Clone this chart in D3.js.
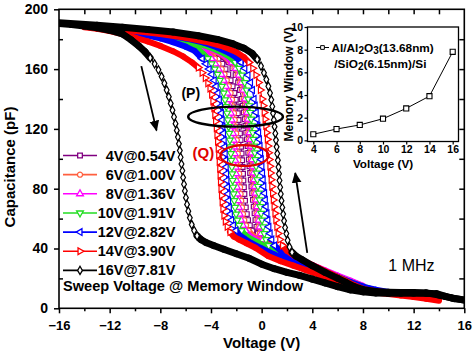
<!DOCTYPE html>
<html><head><meta charset="utf-8">
<script src="https://cdn.jsdelivr.net/npm/d3@7"></script>
<style>
body{margin:0;background:#fff}
svg{display:block}
text{font-family:"Liberation Sans",Arial,sans-serif}
</style>
</head><body>
<svg id="c" width="474" height="353"></svg>
<script>
// ---------------- DATA ----------------
const sweepLabels = ["4V@0.54V","6V@1.00V","8V@1.36V","10V@1.91V","12V@2.82V","14V@3.90V","16V@7.81V"];
const xMajorTicks = [-16,-12,-8,-4,0,4,8,12,16];
const yMajorTicks = [0,40,80,120,160,200];
const insetVoltage = [4,6,8,10,12,14,16];
const insetWindow = [0.54,1.00,1.36,1.91,2.82,3.90,7.81];
const insetXTicks = [4,6,8,10,12,14,16];
const insetYTicks = [0,2,4,6,8,10];

const purpleDown = [[-4,177],[-3.75,170],[-3.4,167],[-3.1,163.5],[-2.85,160],[-2.63,156.5],[-2.45,152.5],[-2.29,148.5],[-2.15,144],[-2.04,139.5],[-1.95,135],[-1.88,130.5],[-1.82,126],[-1.76,121.5],[-1.71,117],[-1.66,112.5],[-1.62,108],[-1.58,103.5],[-1.54,99],[-1.5,94.5],[-1.47,90],[-1.44,85.5],[-1.4,81],[-1.36,76.5],[-1.31,72],[-1.25,67.5],[-1.17,63],[-1.07,59],[-0.93,55.5],[-0.73,52],[-0.45,49],[-0.05,46.5],[0.6,43],[1.4,39],[2.2,35],[3,31],[4,27]];
const purpleUp = [[4,27],[3,32],[2,36.5],[1,40],[0.04,43.5],[-0.18,46],[-0.31,50],[-0.41,54.5],[-0.49,59],[-0.56,63.5],[-0.63,68],[-0.69,72.5],[-0.75,77],[-0.81,81.5],[-0.86,86],[-0.91,90.5],[-0.96,95],[-1.01,99.5],[-1.06,104],[-1.11,108.5],[-1.16,113],[-1.22,117.5],[-1.28,122],[-1.34,126.5],[-1.41,131],[-1.49,135.5],[-1.58,140],[-1.71,146],[-1.86,151],[-2.06,156],[-2.31,160.5],[-2.61,164.5],[-3.01,168],[-3.5,171.5],[-4,175]];

const orangeDown = [[-6,178],[-5,175.5],[-4.5,173.5],[-4.05,170],[-3.7,167],[-3.4,163.5],[-3.15,160],[-2.93,156.5],[-2.75,152.5],[-2.59,148.5],[-2.45,144],[-2.34,139.5],[-2.25,135],[-2.18,130.5],[-2.12,126],[-2.06,121.5],[-2.01,117],[-1.96,112.5],[-1.92,108],[-1.88,103.5],[-1.84,99],[-1.8,94.5],[-1.77,90],[-1.74,85.5],[-1.7,81],[-1.66,76.5],[-1.61,72],[-1.55,67.5],[-1.47,63],[-1.37,59],[-1.23,55.5],[-1.03,52],[-0.75,49],[-0.35,46.5],[0.3,43.5],[1.2,39.5],[2.2,35],[3.2,31],[4.2,27],[5.1,23.5],[6,20]];
const orangeUp = [[6,20],[5,24],[4,28],[3,32],[2,36],[1,39.5],[0.2,42.5],[-0.02,46],[-0.15,50],[-0.25,54.5],[-0.33,59],[-0.4,63.5],[-0.47,68],[-0.53,72.5],[-0.59,77],[-0.65,81.5],[-0.7,86],[-0.75,90.5],[-0.8,95],[-0.85,99.5],[-0.9,104],[-0.95,108.5],[-1,113],[-1.06,117.5],[-1.12,122],[-1.18,126.5],[-1.25,131],[-1.33,135.5],[-1.42,140],[-1.55,146],[-1.7,151],[-1.9,156],[-2.15,160.5],[-2.45,164.5],[-2.85,168],[-3.5,171.5],[-4.4,174.5],[-5.2,176.5],[-6,178]];

const magentaDown = [[-8,182],[-7,180],[-6,177.5],[-5,174.5],[-4.3,170],[-3.95,167],[-3.65,163.5],[-3.4,160],[-3.18,156.5],[-3,152.5],[-2.84,148.5],[-2.7,144],[-2.59,139.5],[-2.5,135],[-2.43,130.5],[-2.37,126],[-2.31,121.5],[-2.26,117],[-2.21,112.5],[-2.17,108],[-2.13,103.5],[-2.09,99],[-2.05,94.5],[-2.02,90],[-1.99,85.5],[-1.95,81],[-1.91,76.5],[-1.86,72],[-1.8,67.5],[-1.72,63],[-1.62,59],[-1.48,55.5],[-1.28,52],[-1,49],[-0.6,46.5],[0,44],[1,40],[2,36],[3,32],[4,28.5],[5,25],[6,21.5],[7,18],[8,15]];
const magentaUp = [[8,15],[7,18.5],[6,22],[5,25.5],[4,29],[3,32.5],[2,36],[1,39.5],[0.31,42.5],[0.09,46],[-0.04,50],[-0.14,54.5],[-0.22,59],[-0.29,63.5],[-0.36,68],[-0.42,72.5],[-0.48,77],[-0.54,81.5],[-0.59,86],[-0.64,90.5],[-0.69,95],[-0.74,99.5],[-0.79,104],[-0.84,108.5],[-0.89,113],[-0.95,117.5],[-1.01,122],[-1.07,126.5],[-1.14,131],[-1.22,135.5],[-1.31,140],[-1.44,146],[-1.59,151],[-1.79,156],[-2.04,160.5],[-2.34,164.5],[-2.74,168],[-3.4,171.5],[-4.3,174.5],[-5.5,177.5],[-6.8,180],[-8,181.8]];

const greenDown = [[-10,185],[-9,183.2],[-8,181.5],[-7,179.2],[-6,176.5],[-5,173.2],[-4.6,170],[-4.25,167],[-3.95,163.5],[-3.7,160],[-3.48,156.5],[-3.3,152.5],[-3.14,148.5],[-3,144],[-2.89,139.5],[-2.8,135],[-2.73,130.5],[-2.67,126],[-2.61,121.5],[-2.56,117],[-2.51,112.5],[-2.47,108],[-2.43,103.5],[-2.39,99],[-2.35,94.5],[-2.32,90],[-2.29,85.5],[-2.25,81],[-2.21,76.5],[-2.16,72],[-2.1,67.5],[-2.02,63],[-1.92,59],[-1.78,55.5],[-1.58,52],[-1.3,49],[-0.9,46.5],[-0.3,44],[0.5,40.5],[1.5,36.5],[2.5,32.5],[3.5,29],[4.5,25.5],[5.5,22.5],[6.5,19],[7.3,16],[8,13.5],[9,11.5],[10,10]];
const greenUp = [[10,10],[9,12],[8,14.5],[7,17.5],[6,21],[5,24.5],[4,28],[3,31.5],[2,35],[1.2,38.5],[0.56,42],[0.34,46],[0.21,50],[0.11,54.5],[0.03,59],[-0.04,63.5],[-0.11,68],[-0.17,72.5],[-0.23,77],[-0.29,81.5],[-0.34,86],[-0.39,90.5],[-0.44,95],[-0.49,99.5],[-0.54,104],[-0.59,108.5],[-0.64,113],[-0.7,117.5],[-0.76,122],[-0.82,126.5],[-0.89,131],[-0.97,135.5],[-1.06,140],[-1.19,146],[-1.34,151],[-1.54,156],[-1.79,160.5],[-2.09,164.5],[-2.49,168],[-3.2,171.5],[-4.2,175],[-5.5,178],[-7,180.5],[-8.5,182.5],[-10,184]];

const blueDown = [[-12,187],[-11,185.8],[-10,184.3],[-9,182.5],[-8,180.5],[-7,178],[-6,175],[-5.3,172.2],[-4.7,167],[-4.4,163.5],[-4.15,160],[-3.93,156.5],[-3.75,152.5],[-3.59,148.5],[-3.45,144],[-3.34,139.5],[-3.25,135],[-3.18,130.5],[-3.12,126],[-3.06,121.5],[-3.01,117],[-2.96,112.5],[-2.92,108],[-2.88,103.5],[-2.84,99],[-2.8,94.5],[-2.77,90],[-2.74,85.5],[-2.7,81],[-2.66,76.5],[-2.61,72],[-2.55,67.5],[-2.47,63],[-2.37,59],[-2.23,55.5],[-2.03,52],[-1.75,49],[-1.35,46.5],[-0.8,43.5],[0,40],[1,36],[2,32.5],[3,29],[4,26],[5,23],[6,20],[7,17],[8,14],[9,12],[10,10.5],[11,9],[12,8]];
const blueUp = [[12,8],[11,9.5],[10,11],[9,12.5],[8,14.5],[7,17.5],[6,21],[5,24.5],[4,28],[3,31.5],[2,35.5],[1.5,38.5],[1.02,42],[0.8,46],[0.67,50],[0.57,54.5],[0.49,59],[0.42,63.5],[0.35,68],[0.29,72.5],[0.23,77],[0.17,81.5],[0.12,86],[0.07,90.5],[0.02,95],[-0.03,99.5],[-0.08,104],[-0.13,108.5],[-0.18,113],[-0.24,117.5],[-0.3,122],[-0.36,126.5],[-0.43,131],[-0.51,135.5],[-0.6,140],[-0.73,146],[-0.88,151],[-1.08,156],[-1.33,160.5],[-1.63,164.5],[-2.03,168],[-2.6,171],[-3.5,174.5],[-4.5,177.5],[-6,180.5],[-8,183.5],[-10,185.5],[-12,187]];

const redDown = [[-14,188],[-13,187],[-12,185.5],[-11,183.5],[-10,181],[-9,178.5],[-8,175.5],[-7,172],[-6.2,168.5],[-5.5,164.5],[-5,161],[-4.7,157.5],[-4.45,154],[-4.25,150.5],[-4.08,147],[-3.95,143],[-3.85,138.5],[-3.77,134],[-3.7,129.5],[-3.64,125],[-3.58,120.5],[-3.53,116],[-3.48,111.5],[-3.43,107],[-3.39,102.5],[-3.35,98],[-3.31,93.5],[-3.28,89],[-3.25,84.5],[-3.21,80],[-3.17,75.5],[-3.12,71],[-3.06,66.5],[-2.98,62],[-2.87,58],[-2.72,54.5],[-2.5,51],[-2.2,48],[-1.8,46],[-1.2,43.5],[-0.5,40.5],[0.5,35],[1.5,31.5],[2.5,28.5],[3.5,25.5],[4.5,22.5],[5.5,19.5],[6.5,16.5],[7.3,14],[8,12],[9,10.5],[10,9.5],[11,8.5],[12,7.5],[13,6.3],[14,5]];
const redUp = [[14,5.5],[13,7],[12,8.5],[11,9.5],[10,10.5],[9,11.5],[8,13],[7.3,15.5],[6.5,19],[5.5,23],[4.5,27],[3.5,31],[2.6,35],[2,38.5],[1.65,42],[1.43,46],[1.3,50],[1.2,54.5],[1.12,59],[1.05,63.5],[0.98,68],[0.92,72.5],[0.86,77],[0.8,81.5],[0.75,86],[0.7,90.5],[0.65,95],[0.6,99.5],[0.55,104],[0.5,108.5],[0.45,113],[0.39,117.5],[0.33,122],[0.27,126.5],[0.2,131],[0.12,135.5],[0.03,140],[-0.1,146],[-0.25,151],[-0.45,156],[-0.7,160.5],[-1,164.5],[-1.4,168],[-2,171.5],[-3,175],[-4.5,178.5],[-6,181],[-8,183.5],[-10,185.5],[-12,187],[-14,188.3]];

const blackDown = [[-16,190.5],[-15,189.8],[-14,188.8],[-13,187.6],[-12,186],[-11,183.5],[-10.3,179.5],[-9.7,175.5],[-9.2,171.5],[-8.8,167.5],[-8.45,163.5],[-8.15,159.5],[-7.9,155],[-7.68,150.5],[-7.5,146],[-7.33,141.5],[-7.18,137],[-7.04,132.5],[-6.92,128],[-6.8,123.5],[-6.7,119],[-6.61,114.5],[-6.53,110],[-6.46,105.5],[-6.4,101],[-6.33,96.5],[-6.26,92],[-6.2,87.5],[-6.13,83],[-6.06,78.5],[-5.98,74],[-5.89,69.5],[-5.79,65],[-5.67,60.5],[-5.52,56],[-5.33,52],[-5.1,48.5],[-4.8,46],[-4.4,44],[-3.8,42],[-3,39.5],[-2,36.5],[-1,33.5],[0,29.5],[1,26.5],[2,24],[3,22],[4,19.5],[5,17],[6,14.5],[7,12.3],[8,11],[9,10.3],[10,10],[11,10],[12,10],[13,10],[13.8,9.8],[14.5,8],[15.2,6.5],[16,5.5]];
const blackUp = [[16,5.5],[15,7],[14,8.8],[13,10.3],[12,10.6],[11,10.6],[10,10.8],[9,11.3],[8,12.5],[7.3,14.5],[6.6,17.5],[6,20],[5,24],[4,28.5],[3.2,32.5],[2.7,35],[2.4,37.5],[2.2,41],[2.05,45.5],[1.95,50],[1.85,54],[1.77,58.5],[1.7,63],[1.63,67.5],[1.57,72],[1.51,76.5],[1.46,81],[1.41,85.5],[1.37,90],[1.33,94.5],[1.28,99],[1.23,103.5],[1.18,108],[1.13,112.5],[1.08,117],[1.02,121.5],[0.96,126],[0.9,130.5],[0.84,135],[0.76,139.5],[0.66,144],[0.53,148.5],[0.37,153],[0.18,157.5],[-0.05,162],[-0.35,166.5],[-0.75,170.5],[-1.4,174],[-2.3,177],[-3.5,179.8],[-5,182.3],[-7,184.8],[-9,186.5],[-11,188],[-13,189.3],[-16,191]];

// ---------------- SETUP ----------------
const svg = d3.select("#c");
const x = d3.scaleLinear().domain([-16,16]).range([59,464.3]);
const y = d3.scaleLinear().domain([0,200]).range([308.3,9.3]);

const triRot = {up:0, down:180, left:-90, right:90};
const series = [
  {label: sweepLabels[0], color:"#800080", sym:d3.symbolSquare,   rot:0,   size:22, down:purpleDown, up:purpleUp},
  {label: sweepLabels[1], color:"#ff5f3f", sym:d3.symbolCircle,   rot:0,   size:20, down:orangeDown, up:orangeUp},
  {label: sweepLabels[2], color:"#ff00ff", sym:d3.symbolTriangle, rot:triRot.up, size:20, down:magentaDown, up:magentaUp},
  {label: sweepLabels[3], color:"#22dd22", sym:d3.symbolTriangle, rot:triRot.down, size:20, down:greenDown, up:greenUp},
  {label: sweepLabels[4], color:"#0000ff", sym:d3.symbolTriangle, rot:triRot.left, size:20, down:blueDown, up:blueUp},
  {label: sweepLabels[5], color:"#ff0000", sym:d3.symbolTriangle, rot:triRot.right, size:20, down:redDown, up:redUp},
  {label: sweepLabels[6], color:"#000000", sym:d3.symbolDiamond,  rot:0,   size:20, down:blackDown, up:blackUp}
];

svg.append("defs").append("clipPath").attr("id","clip")
  .append("rect").attr("x",x(-16)).attr("y",y(200)).attr("width",x(16)-x(-16)).attr("height",y(0)-y(200));

const plot = svg.append("g").attr("clip-path","url(#clip)");

function drawBranch(g, data, s, bandW){
  const pts = data.map(d => [x(d[0]), y(d[1])]);
  const flat = [];
  for(let i=0;i<pts.length-1;i++){
    const dx = Math.abs(pts[i+1][0]-pts[i][0]), dy = Math.abs(pts[i+1][1]-pts[i][1]);
    flat.push(dy < 1.3*dx);
  }
  const band = g.append("g").attr("stroke", s.color).attr("stroke-width", bandW).attr("stroke-linecap","round");
  flat.forEach((f,i) => {
    if(f) band.append("line").attr("x1",pts[i][0]).attr("y1",pts[i][1]).attr("x2",pts[i+1][0]).attr("y2",pts[i+1][1]);
  });
  g.append("path").attr("d", d3.line()(pts)).attr("fill","none").attr("stroke", s.color).attr("stroke-width",1.3);
  const sym = d3.symbol().type(s.sym).size(s.size);
  pts.forEach((p,i) => {
    const isFlat = (i===0 || flat[i-1]) && (i===pts.length-1 || flat[i]);
    if(!isFlat){
      g.append("path").attr("d", sym())
        .attr("transform", `translate(${p[0]},${p[1]}) rotate(${s.rot})`)
        .attr("fill","#fff").attr("stroke", s.color).attr("stroke-width",1.2);
    }
  });
}

series.forEach(s => {
  const g = plot.append("g");
  const bw = s.color === "#000000" ? 7 : 6;
  drawBranch(g, s.down, s, bw);
  drawBranch(g, s.up, s, bw);
});

// ---------------- AXES ----------------
function styleAxis(g, fs){
  g.select(".domain").remove();
  g.selectAll(".tick line").attr("stroke","#000").attr("stroke-width",1.5);
  g.selectAll(".tick text").attr("fill","#000").attr("font-size",fs).attr("font-weight","bold")
    .attr("font-family","Liberation Sans, Arial, sans-serif");
}
const H = y(0), T = y(200), L = x(-16), R = x(16);
styleAxis(svg.append("g").attr("transform",`translate(0,${H})`)
  .call(d3.axisBottom(x).tickValues(xMajorTicks).tickSize(5).tickPadding(7).tickFormat(d3.format("d"))), 13);
styleAxis(svg.append("g").attr("transform",`translate(0,${H})`)
  .call(d3.axisBottom(x).tickValues(d3.range(-14,16,4)).tickSize(3).tickFormat("")), 13);
styleAxis(svg.append("g").attr("transform",`translate(${L},0)`)
  .call(d3.axisLeft(y).tickValues(yMajorTicks).tickSize(5).tickPadding(6)), 14);
styleAxis(svg.append("g").attr("transform",`translate(${L},0)`)
  .call(d3.axisLeft(y).tickValues(d3.range(20,200,40)).tickSize(-4).tickFormat("")), 13);
styleAxis(svg.append("g").attr("transform",`translate(0,${T})`)
  .call(d3.axisTop(x).tickValues(d3.range(-14,16,2)).tickSize(-5).tickFormat("")), 13);
styleAxis(svg.append("g").attr("transform",`translate(${R},0)`)
  .call(d3.axisRight(y).tickValues(d3.range(20,200,20)).tickSize(-5).tickFormat("")), 13);

svg.append("rect").attr("x",L).attr("y",T).attr("width",R-L).attr("height",H-T)
  .attr("fill","none").attr("stroke","#000").attr("stroke-width",1.6);

svg.append("text").attr("x",(L+R)/2).attr("y",348).attr("text-anchor","middle")
  .attr("font-size",15).attr("font-weight","bold").text("Voltage (V)");
svg.append("text").attr("transform",`translate(15,167) rotate(-90)`).attr("text-anchor","middle")
  .attr("font-size",15).attr("font-weight","bold").text("Capacitance (pF)");

// ---------------- ANNOTATIONS ----------------
const defs = svg.select("defs");
defs.append("marker").attr("id","ah").attr("viewBox","0 0 10 10").attr("refX",9).attr("refY",5)
  .attr("markerWidth",6).attr("markerHeight",6).attr("markerUnits","strokeWidth").attr("orient","auto")
  .append("path").attr("d","M0,0.5 L10,5 L0,9.5 Z").attr("fill","#000");

const ann = svg.append("g");
ann.append("line").attr("x1",x(-9.5)).attr("y1",y(162)).attr("x2",x(-8.3)).attr("y2",y(119))
  .attr("stroke","#000").attr("stroke-width",1.8).attr("marker-end","url(#ah)");
ann.append("line").attr("x1",x(3.6)).attr("y1",y(37)).attr("x2",x(2.65)).attr("y2",y(90.5))
  .attr("stroke","#000").attr("stroke-width",1.8).attr("marker-end","url(#ah)");

ann.append("ellipse").attr("cx",x(-2.06)).attr("cy",y(128.2))
  .attr("rx",x(3.74)-x(0)).attr("ry",y(0)-y(6.7))
  .attr("fill","none").attr("stroke","#000").attr("stroke-width",2.4);
ann.append("ellipse").attr("cx",x(-1.36)).attr("cy",y(102.2))
  .attr("rx",x(1.9)-x(0)).attr("ry",y(0)-y(7))
  .attr("fill","none").attr("stroke","#e00000").attr("stroke-width",2.2);

ann.append("text").attr("x",x(-5.6)).attr("y",y(140.5)).attr("text-anchor","middle")
  .attr("font-size",14).attr("font-weight","bold").attr("fill","#000").text("(P)");
ann.append("text").attr("x",x(-4.6)).attr("y",y(100.5)).attr("text-anchor","middle")
  .attr("font-size",15).attr("font-weight","bold").attr("fill","#e00000").text("(Q)");
ann.append("text").attr("x",x(10)).attr("y",y(25.2))
  .attr("font-size",16).attr("fill","#000").text("1 MHz");

// ---------------- LEGEND ----------------
const leg = svg.append("g");
series.forEach((s,i) => {
  const yy = 155.5 + i*19.15;
  leg.append("line").attr("x1",63).attr("x2",97).attr("y1",yy).attr("y2",yy)
    .attr("stroke",s.color).attr("stroke-width",1.6);
  leg.append("path").attr("d", d3.symbol().type(s.sym).size(s.size)())
    .attr("transform",`translate(80,${yy}) rotate(${s.rot})`)
    .attr("fill","#fff").attr("stroke",s.color).attr("stroke-width",1.3);
  leg.append("text").attr("x",175.5).attr("y",yy+5).attr("text-anchor","end")
    .attr("font-size",14.5).attr("font-weight","bold").attr("fill","#000").text(s.label);
});
leg.append("text").attr("x",63).attr("y",291)
  .attr("font-family","Liberation Serif, Times New Roman, serif")
  .attr("font-size",14.6).attr("font-weight","bold").attr("fill","#000")
  .text("Sweep Voltage @ Memory Window");

// ---------------- INSET ----------------
const ix = d3.scaleLinear().domain([3.5,16.5]).range([307.5,458.5]);
const iy = d3.scaleLinear().domain([-0.1,10]).range([141.5,27]);
const inset = svg.append("g");
inset.append("rect").attr("x",ix(3.5)).attr("y",iy(10)).attr("width",ix(16.5)-ix(3.5)).attr("height",iy(-0.1)-iy(10))
  .attr("fill","#fff");
styleAxis(inset.append("g").attr("transform",`translate(0,${iy(-0.1)})`)
  .call(d3.axisBottom(ix).tickValues(insetXTicks).tickSize(3).tickPadding(1.5)), 10.5);
styleAxis(inset.append("g").attr("transform",`translate(${ix(3.5)},0)`)
  .call(d3.axisLeft(iy).tickValues(insetYTicks).tickSize(3).tickPadding(1.5)), 10.5);
inset.selectAll(".tick line").attr("stroke-width",1.2);
inset.append("rect").attr("x",ix(3.5)).attr("y",iy(10)).attr("width",ix(16.5)-ix(3.5)).attr("height",iy(-0.1)-iy(10))
  .attr("fill","none").attr("stroke","#000").attr("stroke-width",1.3);

const insetPts = insetVoltage.map((v,i) => [ix(v), iy(insetWindow[i])]);
inset.append("path").attr("d", d3.line()(insetPts)).attr("fill","none").attr("stroke","#000").attr("stroke-width",1);
const sq = d3.symbol().type(d3.symbolSquare).size(26);
insetPts.forEach(p => inset.append("path").attr("d", sq()).attr("transform",`translate(${p[0]},${p[1]})`)
  .attr("fill","#fff").attr("stroke","#000").attr("stroke-width",1.1));

inset.append("line").attr("x1",316).attr("x2",329).attr("y1",47.5).attr("y2",47.5).attr("stroke","#000").attr("stroke-width",1);
inset.append("path").attr("d", d3.symbol().type(d3.symbolSquare).size(14)()).attr("transform","translate(322.5,47.5)")
  .attr("fill","#fff").attr("stroke","#000").attr("stroke-width",1);
const t1 = inset.append("text").attr("x",331.5).attr("y",51.5).attr("font-size",11.8).attr("font-weight","bold");
t1.append("tspan").text("Al/Al");
t1.append("tspan").attr("font-size",10).attr("dy",2).text("2");
t1.append("tspan").attr("dy",-2).text("O");
t1.append("tspan").attr("font-size",10).attr("dy",2).text("3");
t1.append("tspan").attr("dy",-2).text("(13.68nm)");
const t2 = inset.append("text").attr("x",334.3).attr("y",68.3).attr("font-size",11.8).attr("font-weight","bold");
t2.append("tspan").text("/SiO");
t2.append("tspan").attr("font-size",10).attr("dy",2).text("2");
t2.append("tspan").attr("dy",-2).text("(6.15nm)/Si");

inset.append("text").attr("x",383).attr("y",168).attr("text-anchor","middle")
  .attr("font-size",11.7).attr("font-weight","bold").text("Voltage (V)");
inset.append("text").attr("transform",`translate(292.5,${(iy(10)+iy(-0.1))/2}) rotate(-90)`).attr("text-anchor","middle")
  .attr("font-size",12).attr("font-weight","bold").text("Memory Window (V)");
</script>
</body></html>
